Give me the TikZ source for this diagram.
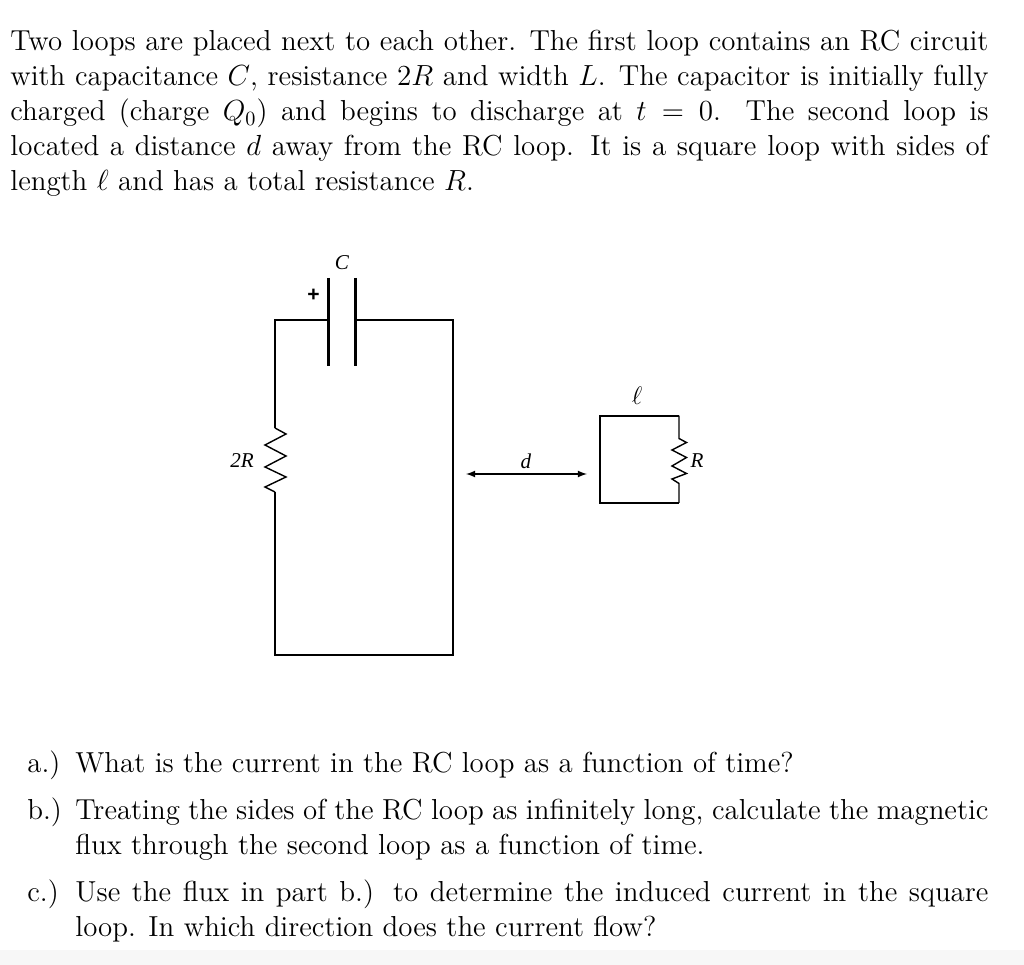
\documentclass[tikz,border=0pt]{standalone}
\usepackage{fontspec}
\newfontfamily\labelfont{Liberation Serif}
\newfontfamily\plusfont{Liberation Sans}
\tikzset{
    wire/.style={line width=0.8pt, line join=miter},
    plate/.style={line width=1.7pt},
    prose/.style={anchor=north west, inner sep=0pt, align=justify, scale=1.15, transform shape, font=\fontsize{14.3}{17.3}\selectfont},
    tag/.style={inner sep=0pt, font=\labelfont\itshape\fontsize{12}{14}\selectfont},
}
\begin{document}
\begin{tikzpicture}
    \useasboundingbox (0,0) rectangle (20.48,19.3);
    \fill[black!3] (0,0) rectangle (20.48,0.3);

    \node[prose, text width=17.01cm] (intro) at (0.2,18.7) {Two loops are placed next to each other. The first loop contains an RC circuit\linebreak
        with capacitance \(C\), resistance \(2R\) and width \(L\). The capacitor is initially fully\linebreak
        charged (charge \(Q_0\)) and begins to discharge at \(t = 0\). The second loop is\linebreak
        located a distance \(d\) away from the RC loop. It is a square loop with sides of\linebreak
        length \(\ell\) and has a total resistance \(R\).};

    \coordinate (lt) at (5.5,12.9);
    \coordinate (rt) at (9.06,12.9);
    \coordinate (rb) at (9.06,6.2);
    \coordinate (lb) at (5.5,6.2);
    \coordinate (plus1) at (6.57,13.74);
    \coordinate (plus2) at (6.57,11.98);
    \coordinate (minus1) at (7.11,13.74);
    \coordinate (minus2) at (7.11,11.98);
    \coordinate (capl) at (6.57,12.9);
    \coordinate (capr) at (7.11,12.9);
    \coordinate (res1) at (5.5,10.74);
    \coordinate (res2) at (5.5,9.46);

    \draw[wire] (capl) -- (lt) -- (res1);
    \draw[wire] (res1) -- ++(0.22,-0.12) -- ++(-0.42,-0.22) -- ++(0.42,-0.22) -- ++(-0.42,-0.22) -- ++(0.42,-0.2) -- ++(-0.42,-0.2) -- (res2);
    \draw[wire] (res2) -- (lb) -- (rb) -- (rt) -- (capr);
    \draw[plate] (plus1) -- (plus2);
    \draw[plate] (minus1) -- (minus2);

    \node[tag] (capname) at (6.84,14.04) {C};
    \node[inner sep=0pt, font=\plusfont\bfseries\fontsize{12}{14}\selectfont] (plus) at (6.27,13.4) {+};
    \node[tag] (bigres) at (4.84,10.08) {2R};

    \coordinate (d1) at (9.32,9.82);
    \coordinate (d2) at (11.74,9.82);
    \draw[<->, >=latex, wire] (d1) -- (d2);
    \node[tag] (dist) at (10.52,10.08) {d};

    \coordinate (slt) at (12,10.985);
    \coordinate (srt) at (13.58,10.985);
    \coordinate (srb) at (13.58,9.24);
    \coordinate (slb) at (12,9.24);
    \coordinate (sres1) at (13.58,10.53);
    \coordinate (sres2) at (13.58,9.63);

    \draw[wire, line width=1pt] (srt) -- (slt) -- (slb) -- (srb);
    \draw[wire] (srt) -- (sres1) -- ++(0.15,-0.08) -- ++(-0.29,-0.15) -- ++(0.29,-0.15) -- ++(-0.29,-0.17) -- ++(0.29,-0.15) -- ++(-0.29,-0.11) -- (sres2) -- (srb);

    \node[inner sep=0pt] (side) at (12.74,11.38) {\fontsize{14}{16}\selectfont\(\ell\)};
    \node[tag] (smallres) at (13.94,10.08) {R};

    \node[prose] (taga) at (0.54,4.35) {\strut a.)};
    \node[prose, text width=15.88cm] (parta) at (1.5,4.35) {\strut What is the current in the RC loop as a function of time?};
    \node[prose] (tagb) at (0.54,3.41) {\strut b.)};
    \node[prose, text width=15.88cm] (partb) at (1.5,3.41) {\strut Treating the sides of the RC loop as infinitely long, calculate the magnetic\linebreak
        flux through the second loop as a function of time.};
    \node[prose] (tagc) at (0.54,1.77) {\strut c.)};
    \node[prose, text width=15.88cm] (partc) at (1.5,1.77) {\strut Use the flux in part b.) to determine the induced current in the square\linebreak
        loop. In which direction does the current flow?};
\end{tikzpicture}
\end{document}
